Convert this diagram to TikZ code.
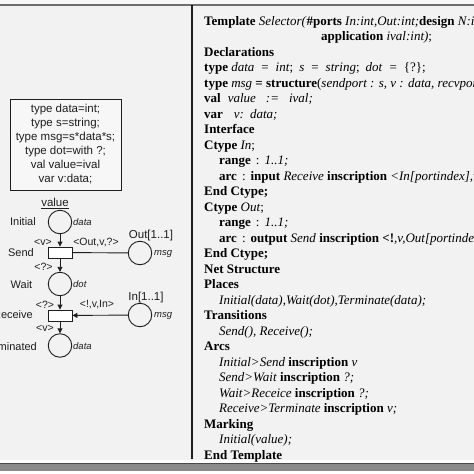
\documentclass[tikz,border=0pt]{standalone}
\usepackage{fontspec}
\setmainfont{Liberation Serif}
\newfontfamily\sansf{Liberation Sans}
\usetikzlibrary{arrows.meta}
\definecolor{bgc}{HTML}{F2F2F2}
\definecolor{boxc}{HTML}{F7F7F7}
\definecolor{topline}{HTML}{6E6E6E}
\definecolor{barc}{HTML}{8A8A8A}
\definecolor{bardark}{HTML}{4A4A4A}
\definecolor{ink}{HTML}{1E1E1E}
\newcommand\kw[1]{\textbf{#1}}
\newcommand\iv[1]{\textit{#1}}
\newcommand\wsp[1]{\hspace{#1pt}}
\begin{document}
\begin{tikzpicture}[x=1pt,y=-1pt,
  code/.style={anchor=base west, inner sep=0pt, font=\fontsize{13}{15.5}\selectfont},
  lbl/.style={inner sep=0pt, font=\sansf\fontsize{11}{13}\selectfont, text=ink},
  decl/.style={anchor=base, inner sep=0pt, font=\sansf\fontsize{11.5}{13}\selectfont, text=ink},
  typ/.style={anchor=base west, inner sep=0pt, font=\sansf\itshape\fontsize{9.5}{11}\selectfont, text=ink},
  arclbl/.style={anchor=base, inner sep=0pt, font=\sansf\fontsize{10.5}{12}\selectfont, text=ink},
  place/.style={circle, draw=ink, line width=0.9pt, minimum size=23.5pt, inner sep=0pt},
  trans/.style={rectangle, draw=ink, line width=0.9pt, minimum width=24pt, minimum height=11pt, inner sep=0pt, fill=white},
  arr/.style={draw=ink, line width=0.9pt, -{Triangle[length=5pt,width=5pt]}},
  plain/.style={draw=ink, line width=0.9pt}
]
\useasboundingbox (0,0) rectangle (474,474);
\clip (0,0) rectangle (474,474);
\fill[bgc] (0,0) rectangle (474,474);
\fill[boxc] (0,0) rectangle (474,4.5);
% frame lines
\draw[topline, line width=1.8pt] (0,5) -- (474,5);
\draw[ink, line width=1.6pt] (192,5) -- (192,459);
\fill[white] (0,460) rectangle (474,463);
\fill[barc] (0,463) rectangle (474,471);
\draw[bardark, line width=1.4pt] (0,463.7) -- (474,463.7);
\fill[white] (0,471) rectangle (474,474);

% declarations box
\node[draw=ink, line width=1pt, fill=boxc, anchor=north west, minimum width=111pt, minimum height=91pt, inner sep=0pt] (declbox) at (10,99) {};
\node[decl] (d1) at (65.5,112) {type data=int;};
\node[decl] (d2) at (65.5,126) {type s=string;};
\node[decl] (d3) at (65.5,140) {type msg=s*data*s;};
\node[decl] (d4) at (65.5,154) {type dot=with ?;};
\node[decl] (d5) at (65.5,168) {val value=ival};
\node[decl] (d6) at (65.5,182.5) {var v:data;};

% Petri net
\node[decl] (val) at (55,206.5) {\underline{value}};
\node[place] (init) at (60,222) {};
\node[trans] (send) at (60,252.5) {};
\node[place] (wait) at (60,284) {};
\node[trans] (recv) at (60,315.5) {};
\node[place] (term) at (60,345.5) {};
\node[place] (out) at (140,253) {};
\node[place] (in) at (140,315) {};
\draw[arr] (init) -- (send);
\draw[arr] (send) -- (wait);
\draw[arr] (wait) -- (recv);
\draw[arr] (recv) -- (term);
\draw[plain] (send) -- (out);
\draw[arr] (in) -- (recv);

\node[lbl, anchor=east] (linit) at (36,222) {Initial};
\node[lbl, anchor=east] (lsend) at (34,253) {Send};
\node[lbl, anchor=east] (lwait) at (32.5,285) {Wait};
\node[lbl, anchor=east] (lrecv) at (33,315) {Receive};
\node[lbl, anchor=east] (lterm) at (37,347) {Terminated};
\node[typ] (tinit) at (73,225.5) {data};
\node[typ] (twait) at (73,287.5) {dot};
\node[typ] (tterm) at (73,349.5) {data};
\node[typ] (tout) at (154,255) {msg};
\node[typ] (tin) at (154,317) {msg};
\node[decl] (lout) at (151,238.5) {Out[1..1]};
\node[decl] (lin) at (146,300.5) {In[1..1]};
\node[arclbl] (a1) at (43,245.5) {<v>};
\node[arclbl] (a2) at (96,245.5) {<Out,v,?>};
\node[arclbl] (a3) at (43.5,270.5) {<?>};
\node[arclbl] (a4) at (45,308.5) {<?>};
\node[arclbl] (a5) at (97,307.5) {<!,v,In>};
\node[arclbl] (a6) at (45,331.5) {<v>};

% template text
\node[code] (t1) at (204,25) {\kw{Template} \iv{Selector(}\kw{\#ports} \iv{In:int,Out:int;}\kw{design} \iv{N:int;}};
\node[code] (t2) at (321,40.5) {\kw{application} \iv{ival:int)};};
\node[code] (t3) at (204,56) {\kw{Declarations}};
\node[code] (t4) at (204,71.5) {\kw{type} \iv{data}\wsp{7}=\wsp{7}\iv{int};\wsp{6}\iv{s}\wsp{7}=\wsp{7}\iv{string};\wsp{6}\iv{dot}\wsp{7}=\wsp{7}\{?\};};
\node[code] (t5) at (204,87) {\kw{type} \iv{msg} \kw{= structure}(\iv{sendport : s, v : data, recvport : s});};
\node[code] (t6) at (204,102.5) {\kw{val}\wsp{7}\iv{value}\wsp{10}\iv{:=}\wsp{10}\iv{ival;}};
\node[code] (t7) at (204,118) {\kw{var}\wsp{11}\iv{v:}\wsp{6}\iv{data;}};
\node[code] (t8) at (204,133.5) {\kw{Interface}};
\node[code] (t9) at (204,149) {\kw{Ctype} \iv{In};};
\node[code] (t10) at (219,164.5) {\kw{range}\wsp{5}:\wsp{5}\iv{1..1;}};
\node[code] (t11) at (219,180) {\kw{arc}\wsp{5}:\wsp{5}\kw{input} \iv{Receive} \kw{inscription} \iv{<In[portindex],v,!>;}};
\node[code] (t12) at (204,195.5) {\kw{End Ctype;}};
\node[code] (t13) at (204,211) {\kw{Ctype} \iv{Out};};
\node[code] (t14) at (219,226.5) {\kw{range}\wsp{5}:\wsp{5}\iv{1..1;}};
\node[code] (t15) at (219,242) {\kw{arc}\wsp{5}:\wsp{5}\kw{output} \iv{Send} \kw{inscription} \kw{<!}\iv{,v,Out[portindex]>;}};
\node[code] (t16) at (204,257.5) {\kw{End Ctype;}};
\node[code] (t17) at (204,273) {\kw{Net Structure}};
\node[code] (t18) at (204,288.5) {\kw{Places}};
\node[code] (t19) at (219,304) {\iv{Initial(data),Wait(dot),Terminate(data);}};
\node[code] (t20) at (204,319.5) {\kw{Transitions}};
\node[code] (t21) at (219,335) {\iv{Send(), Receive();}};
\node[code] (t22) at (204,350.5) {\kw{Arcs}};
\node[code] (t23) at (219,366) {\iv{Initial>Send} \kw{inscription} \iv{v}};
\node[code] (t24) at (219,381.5) {\iv{Send>Wait} \kw{inscription} \iv{?;}};
\node[code] (t25) at (219,397) {\iv{Wait>Receice} \kw{inscription} \iv{?;}};
\node[code] (t26) at (219,412.5) {\iv{Receive>Terminate} \kw{inscription} \iv{v;}};
\node[code] (t27) at (204,428) {\kw{Marking}};
\node[code] (t28) at (219,443.5) {\iv{Initial(value);}};
\node[code] (t29) at (204,459) {\kw{End Template}};
\end{tikzpicture}
\end{document}
